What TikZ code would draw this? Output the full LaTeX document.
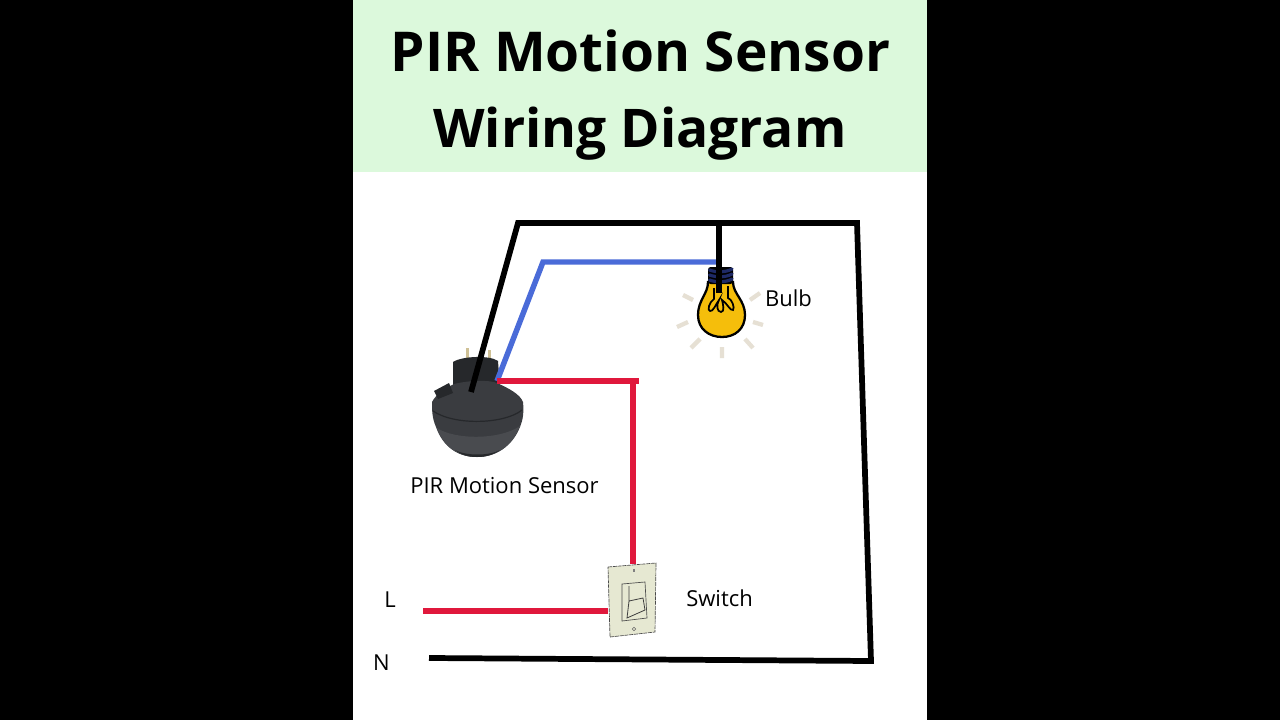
\documentclass[tikz,border=0pt]{standalone}
\usepackage{fontspec}
\setmainfont{Open Sans}
\definecolor{hdr}{HTML}{DCF9DC}
\definecolor{wblack}{HTML}{000000}
\definecolor{wblue}{HTML}{4A6BD8}
\definecolor{wred}{HTML}{E0183C}
\definecolor{plate}{HTML}{E6E8D2}
\definecolor{raycol}{HTML}{E6E0D4}
\definecolor{glass}{HTML}{F5BE0B}
\definecolor{sock}{HTML}{1E2A66}
\definecolor{sbody}{HTML}{3A3C40}
\definecolor{sdome}{HTML}{494B4F}
\definecolor{sdark}{HTML}{26282B}
\definecolor{pincol}{HTML}{CFC196}
\tikzset{
  wirek/.style={line width=4.3pt,line join=miter},
  wirec/.style={line width=4.1pt,line join=miter},
  lab/.style={font=\fontsize{16.5pt}{20pt}\selectfont,text=black,inner sep=0pt,anchor=base},
  ttla/.style={font=\fontsize{41.2pt}{48pt}\selectfont\bfseries,text=black,inner sep=0pt,anchor=base},
  ttlb/.style={font=\fontsize{40pt}{48pt}\selectfont\bfseries,text=black,inner sep=0pt,anchor=base},
  rayl/.style={raycol,line width=3.2pt},
  coil/.style={sock,line width=2.4pt,line cap=round},
}
\begin{document}
\begin{tikzpicture}[x=0.75pt,y=-0.75pt]
\useasboundingbox (0,0) rectangle (1280,720);
\fill[black] (0,0) rectangle (1280,720);
\fill[white] (353,0) rectangle (927,720);
\fill[hdr] (353,0) rectangle (927,172);
\node[ttla] (title1) at (640.5,71.5) {PIR Motion Sensor};
\node[ttlb] (title2) at (640,148) {Wiring Diagram};
% sensor
\fill[pincol] (465.5,348) rectangle (468.5,361);
\fill[pincol] (487.5,350) rectangle (490.5,361);
\fill[sdark] (453,362) .. controls (462,356) and (490,355) .. (498,361) -- (500,388) -- (453,388) -- cycle;
\fill[sbody] (432,402) .. controls (436,394) and (446,388) .. (454,384) .. controls (470,380) and (490,380) .. (497,383)
  .. controls (508,388) and (520,394) .. (523,402) .. controls (524,412) and (523,420) .. (520,427)
  .. controls (512,447) and (495,457) .. (477,457) .. controls (458,457) and (443,447) .. (436,427) .. controls (432,418) and (432,410) .. (432,402) -- cycle;
\fill[sdome] (437,428) .. controls (455,440) and (500,440) .. (520,426) .. controls (512,447) and (495,457) .. (477,457) .. controls (458,457) and (444,447) .. (437,428) -- cycle;
\fill[sdark] (455,450) .. controls (465,456) and (490,456) .. (500,450) .. controls (493,455) and (485,457) .. (477,457) .. controls (469,457) and (461,455) .. (455,450) -- cycle;
\draw[sdark,line width=0.9pt] (433,411) .. controls (455,426) and (505,424) .. (522,410);
\fill[sdark] (434,391) -- (449,383) -- (453,393) -- (438,399) -- cycle;
% bulb rays
\draw[rayl] (683,295) -- (693,300) (750,300) -- (760,293) (677,327) -- (688,322) (753,322) -- (763,325) (691,348) -- (700,339) (745,339) -- (753,348) (722,347) -- (722,358);
% bulb
\draw[black,fill=glass,line width=1.7pt] (708,282) .. controls (708,294) and (698,300) .. (698,315) .. controls (698,329) and (709,337) .. (722,337)
  .. controls (735,337) and (745,329) .. (745,315) .. controls (745,300) and (733,294) .. (733,282) -- cycle;
\draw[black,line width=1.3pt] (714,288) -- (714,299) .. controls (709,302) and (707,311) .. (710,311) .. controls (713,312) and (716,304) .. (719,300)
  .. controls (716,305) and (717,312) .. (721,312) .. controls (725,312) and (723,304) .. (722,300)
  .. controls (727,303) and (730,311) .. (733,310) .. controls (735,308) and (732,299) .. (728,298) -- (728,286);
\fill[black,rounded corners=2pt] (708,267) rectangle (733,284);
\foreach \yy in {270,275,280}{\draw[coil] (709.5,\yy) .. controls (716,\yy+2.5) and (726,\yy+2.5) .. (732,\yy-1);}
% switch
\fill[plate] (608,567) -- (656,563) -- (655,632) -- (610,637) -- cycle;
\draw[black!70!white,line width=0.5pt,dash pattern=on 3pt off 0.6pt] (608,567) -- (656,563) -- (655,632) -- (610,637) -- cycle;
\draw[black!70!white,line width=0.5pt] (622,584) -- (645,582) -- (647,618) -- (622,621) -- cycle;
\draw[black!75!white,line width=0.6pt] (629,586) -- (629,601) -- (627,618) -- (645,610) -- (643,598) -- (629,601);
\draw[black!60!white,line width=0.4pt] (634,629) circle (1.8);
\fill[black!50!white] (632.5,568.5) rectangle (635,572);
% anchors
\coordinate (senB) at (471,392);
\coordinate (c1) at (518,223);
\coordinate (c2) at (857,223);
\coordinate (c3) at (871,661);
\coordinate (nEnd) at (429,658);
\coordinate (bulbTop) at (719,223);
\coordinate (bulbIn) at (719,293);
\coordinate (senS) at (497,381);
\coordinate (b1) at (543,262);
\coordinate (b2) at (719,262);
\coordinate (r1) at (639,381);
\coordinate (r2) at (633,381);
\coordinate (swTop) at (633,564);
\coordinate (lEnd) at (423,611);
\coordinate (swL) at (608,611);
% wires
\draw[wirec,wblue] (senS) -- (b1) -- (b2);
\draw[wirec,wred] (senS) -- (r1);
\draw[wirec,wred] (r2) -- (swTop);
\draw[wirec,wred] (lEnd) -- (swL);
\draw[wirek,wblack] (senB) -- (c1) -- (c2) -- (c3) -- (nEnd);
\draw[wirek,wblack] (bulbTop) -- (bulbIn);
% labels
\node[lab] (lblBulb) at (788.5,306.5) {Bulb};
\node[lab] (lblPir) at (504.5,493.5) {PIR Motion Sensor};
\node[lab] (lblSwitch) at (719.5,606.5) {Switch};
\node[lab] (lblL) at (390,607) {L};
\node[lab] (lblN) at (381.5,670.5) {N};
\end{tikzpicture}
\end{document}
